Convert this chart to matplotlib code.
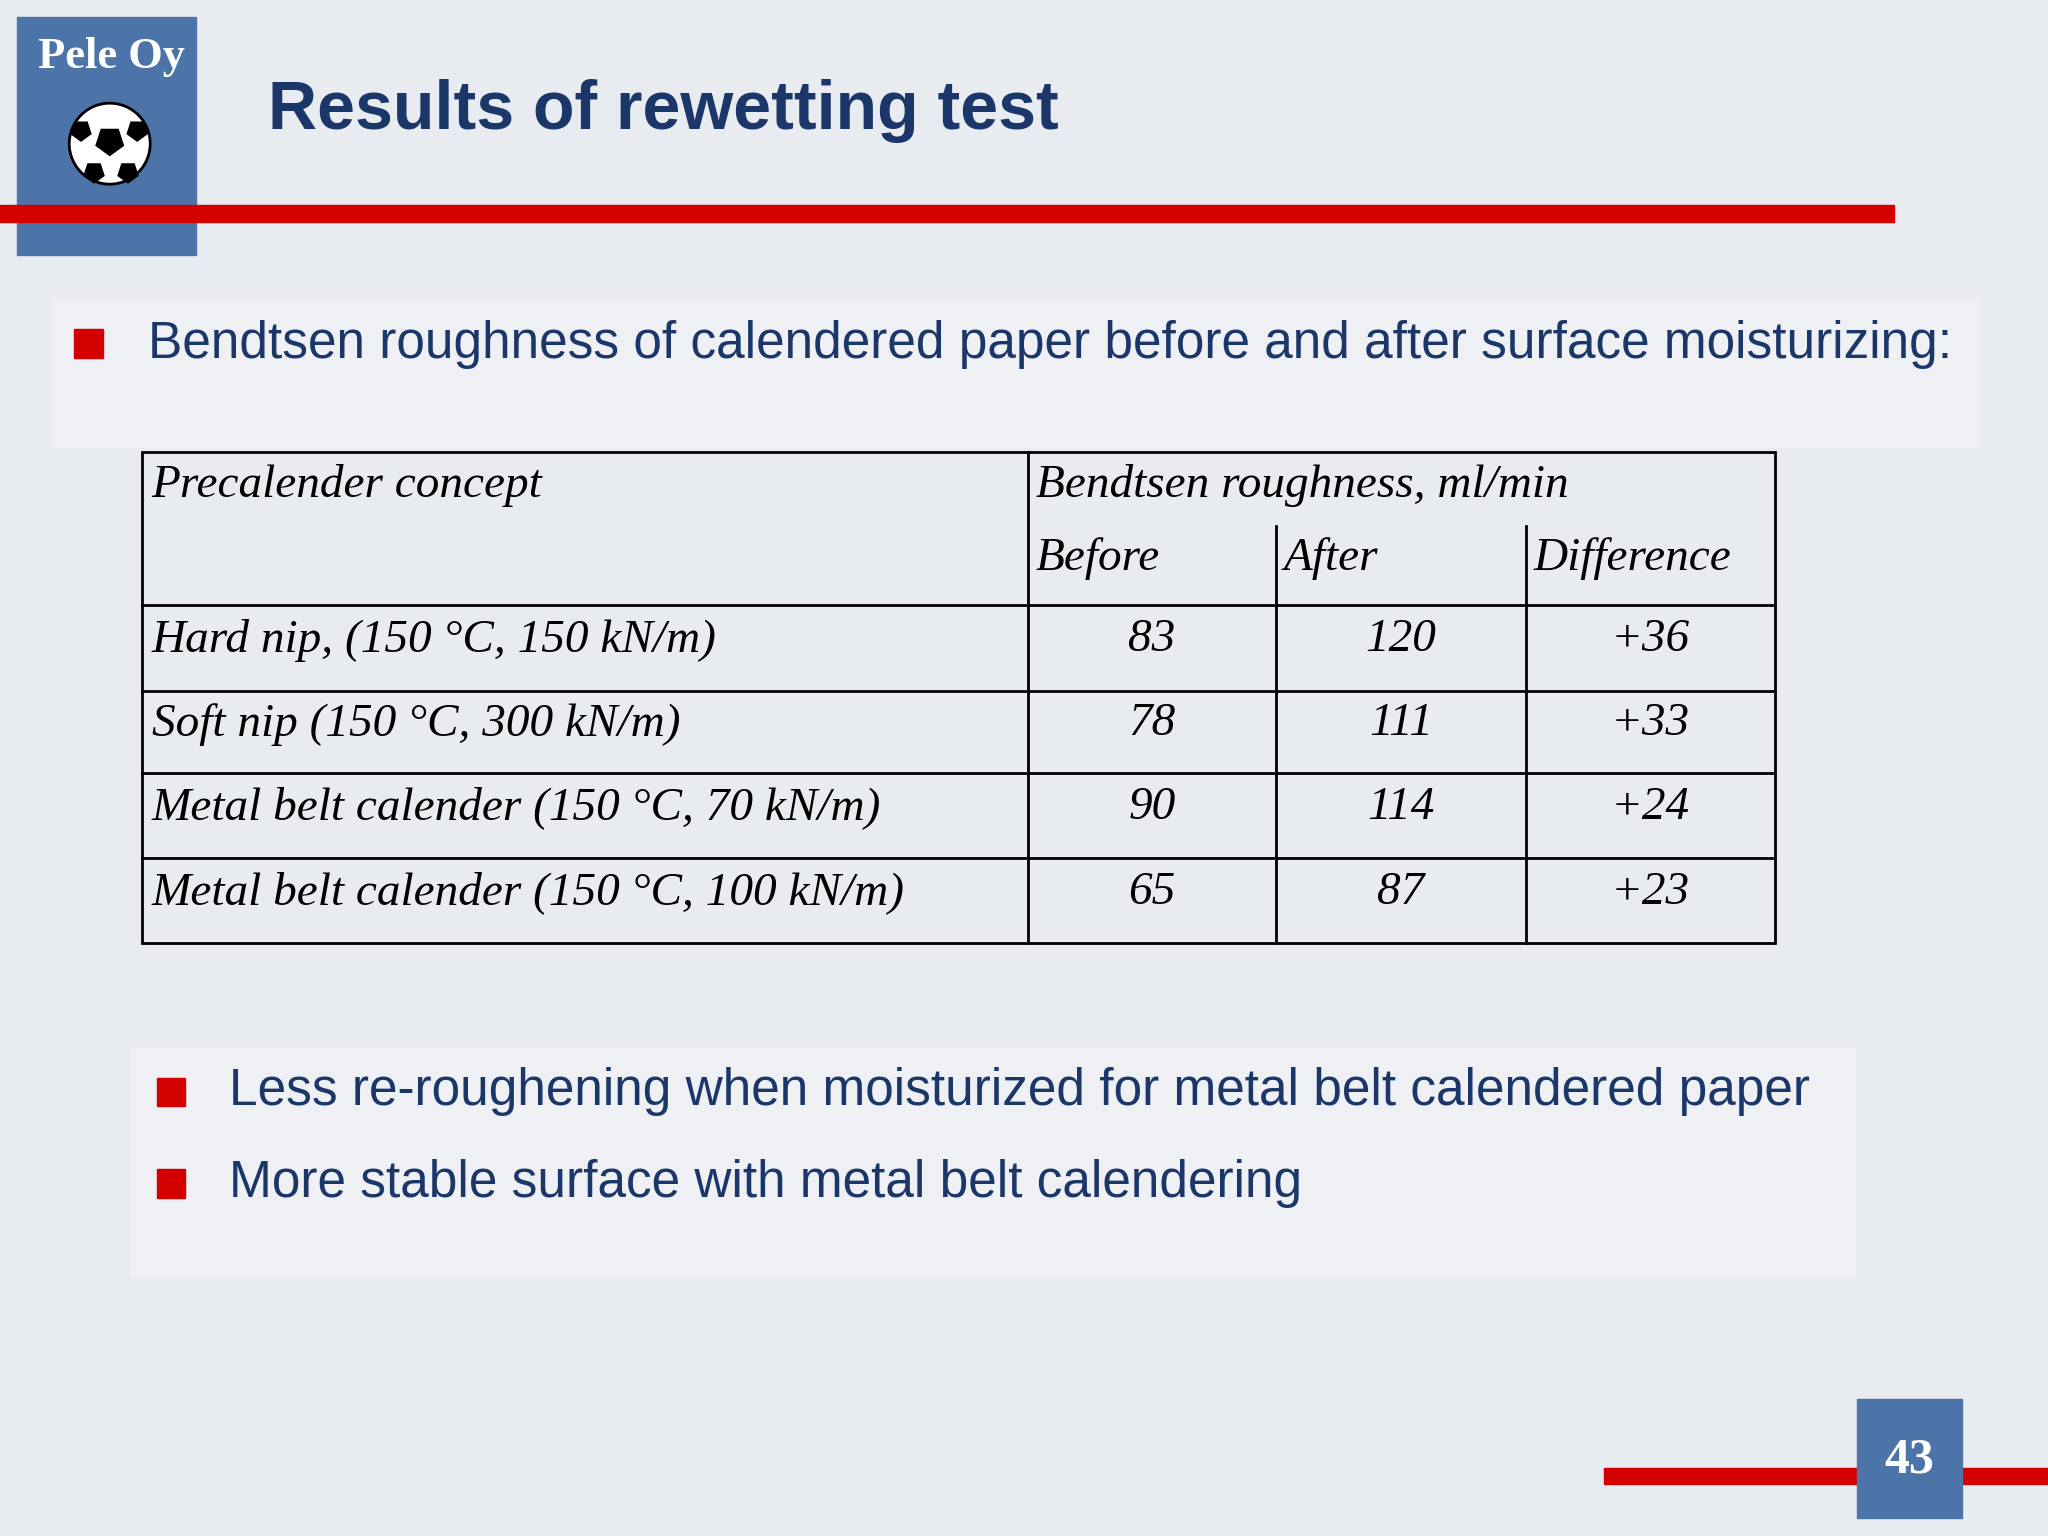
import numpy as np
import matplotlib.pyplot as plt
from matplotlib.patches import Rectangle, Circle, RegularPolygon

# slide content
title = "Results of rewetting test"
intro = "Bendtsen roughness of calendered paper before and after surface moisturizing:"
concepts = ["Hard nip, (150 °C, 150 kN/m)",
            "Soft nip (150 °C, 300 kN/m)",
            "Metal belt calender (150 °C, 70 kN/m)",
            "Metal belt calender (150 °C, 100 kN/m)"]
before = [83, 78, 90, 65]
after = [120, 111, 114, 87]
diff = ["+36", "+33", "+24", "+23"]
notes = ["Less re-roughening when moisturized for metal belt calendered paper",
         "More stable surface with metal belt calendering"]
page = "43"

W, H = 1568, 1176
fig = plt.figure(figsize=(20.48, 15.36), dpi=100)
ax = fig.add_axes([0, 0, 1, 1])
ax.set_xlim(0, W)
ax.set_ylim(H, 0)
ax.axis('off')
fig.patch.set_facecolor('#e8ebf0')

navy = '#1b3668'
red = '#d40000'
blue = '#4d74a8'

# light panels behind text
ax.add_patch(Rectangle((40, 230), 1475, 112, color='#eef0f4', zorder=0))
ax.add_patch(Rectangle((100, 802), 1320, 175, color='#eef0f4', zorder=0))

# header
ax.add_patch(Rectangle((13, 13), 137, 182, color=blue, zorder=1))
ax.add_patch(Rectangle((0, 157), 1450, 13, color=red, zorder=2))
ax.text(85, 44, "Pele Oy", color='white', fontsize=32, fontweight='bold',
        family='Liberation Serif', ha='center', va='center', zorder=3)
ax.add_patch(Circle((84, 110), 31, fc='white', ec='black', lw=2, zorder=3))
for (cx, cy, r) in [(84, 108, 11), (62, 100, 8), (105, 100, 8), (72, 132, 8), (98, 132, 8)]:
    ax.add_patch(RegularPolygon((cx, cy), 5, radius=r, color='black', zorder=4))
ax.text(205, 85, title, color=navy, fontsize=49, fontweight='bold',
        family='Liberation Sans', va='center', zorder=3)

# intro bullet
ax.add_patch(Rectangle((57, 252), 22, 22, color=red, zorder=3))
ax.text(113, 264, intro, color=navy, fontsize=37, family='Liberation Sans',
        va='center', zorder=3)

# table
xs = [109, 787, 977, 1168, 1359]
ys = [346, 463, 529, 592, 657, 722]
ax.add_patch(Rectangle((xs[0], ys[0]), xs[-1] - xs[0], ys[-1] - ys[0],
                       fc='none', ec='black', lw=2, zorder=3))
for y in ys[1:-1]:
    ax.plot([xs[0], xs[-1]], [y, y], color='black', lw=2, zorder=3)
ax.plot([xs[1], xs[1]], [ys[0], ys[-1]], color='black', lw=2, zorder=3)
for x in xs[2:4]:
    ax.plot([x, x], [403, ys[-1]], color='black', lw=2, zorder=3)

tk = dict(family='Liberation Serif', style='italic', fontsize=34, color='black',
          va='center', zorder=4)
ax.text(116, 372, "Precalender concept", **tk)
ax.text(793, 372, "Bendtsen roughness, ml/min", **tk)
for x, s in zip(xs[1:4], ["Before", "After", "Difference"]):
    ax.text(x + 6, 428, s, **tk)
for i, name in enumerate(concepts):
    yc = (ys[i + 1] + ys[i + 2]) / 2 - 6
    ax.text(116, yc, name, **tk)
    for j, v in enumerate([before[i], after[i], diff[i]]):
        ax.text((xs[j + 1] + xs[j + 2]) / 2, yc, str(v), ha='center', **tk)

# notes
for k, s in enumerate(notes):
    y = 836 + 70 * k
    ax.add_patch(Rectangle((120, y - 11), 22, 22, color=red, zorder=3))
    ax.text(175, y, s, color=navy, fontsize=37, family='Liberation Sans',
            va='center', zorder=3)

# page number
ax.add_patch(Rectangle((1228, 1124), 340, 12, color=red, zorder=2))
ax.add_patch(Rectangle((1422, 1071), 80, 91, color=blue, zorder=3))
ax.text(1462, 1118, page, color='white', fontsize=36, fontweight='bold',
        family='Liberation Serif', ha='center', va='center', zorder=4)

fig.savefig('out.png', dpi=100, facecolor=fig.get_facecolor())
